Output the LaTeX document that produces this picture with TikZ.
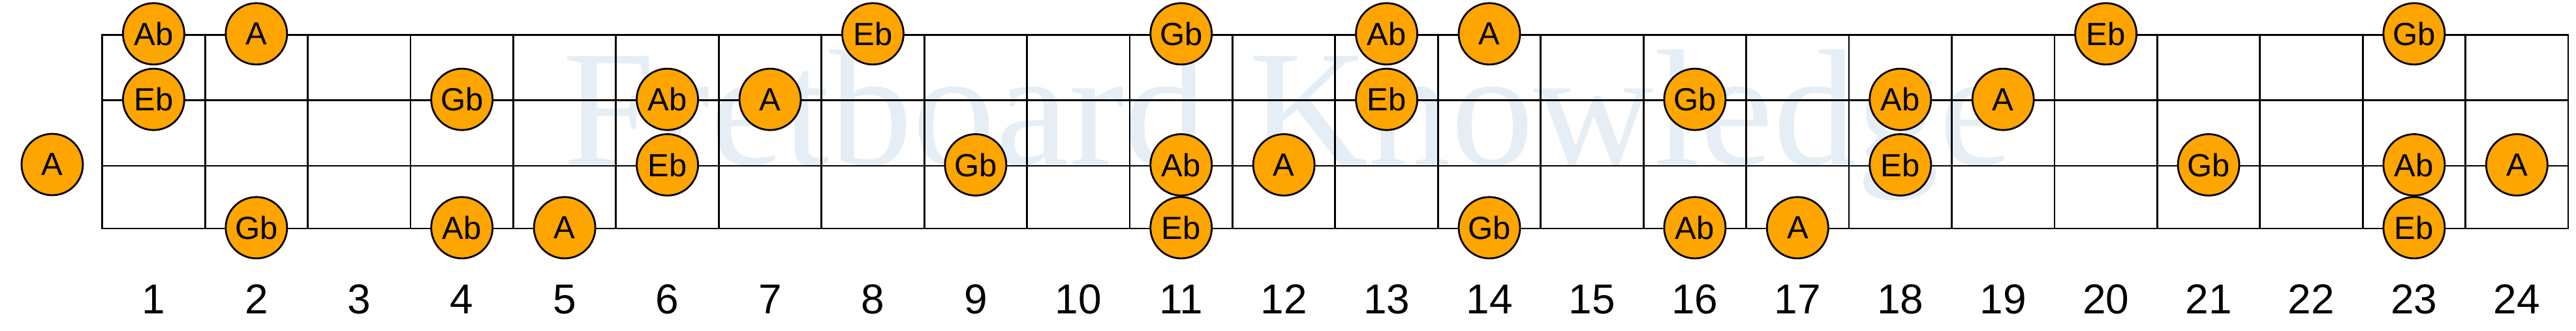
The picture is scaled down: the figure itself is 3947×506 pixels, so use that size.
\documentclass[tikz,border=0pt]{standalone}
\usepackage{fontspec}
\setmainfont{Liberation Sans}
\newfontfamily\wmfont{Liberation Serif}
\definecolor{noteorange}{HTML}{FFA500}
\definecolor{wmblue}{HTML}{E5EEF4}
\begin{document}
\begin{tikzpicture}[x=1pt,y=-1pt,
  fretline/.style={line width=2.8pt, draw=black, line cap=rect},
  note/.style={circle, draw=black, line width=2.8pt, fill=noteorange, minimum size=94pt, inner sep=0pt, font=\fontsize{49}{50}\selectfont},
  fretnum/.style={font=\fontsize{64}{70}\selectfont, anchor=base, inner sep=0pt},
  watermark/.style={font=\wmfont\fontsize{254}{254}\selectfont, text=wmblue, anchor=base west, inner sep=0pt}]
\useasboundingbox (0,0) rectangle (3947,506);
\node[watermark] (wm) at (862,252) {Fretboard Knowledge};
% grid coordinates
\foreach \s/\y in {1/53.3,2/153.7,3/254,4/350}{
  \coordinate (sL\s) at (156.7,\y);
  \coordinate (sR\s) at (3935,\y);
}
\foreach \k in {0,...,24}{
  \coordinate (fT\k) at ({156.7+\k*157.43},53.3);
  \coordinate (fB\k) at ({156.7+\k*157.43},350);
}
\foreach \s in {1,...,4}{\draw[fretline] (sL\s) -- (sR\s);}
\foreach \k in {0,...,24}{\draw[fretline] (fT\k) -- (fB\k);}
% notes
\foreach \f/\t in {1/Ab,2/A,8/Eb,11/Gb,13/Ab,14/A,20/Eb,23/Gb}{
  \node[note] (a\f) at ({78+\f*157.43},51.8) {\t};}
\foreach \f/\t in {1/Eb,4/Gb,6/Ab,7/A,13/Eb,16/Gb,18/Ab,19/A}{
  \node[note] (b\f) at ({78+\f*157.43},152.2) {\t};}
\foreach \f/\t in {6/Eb,9/Gb,11/Ab,12/A,18/Eb,21/Gb,23/Ab,24/A}{
  \node[note] (c\f) at ({78+\f*157.43},252.5) {\t};}
\node[note] (c0) at (80,252) {A};
\foreach \f/\t in {2/Gb,4/Ab,5/A,11/Eb,14/Gb,16/Ab,17/A,23/Eb}{
  \node[note] (d\f) at ({78+\f*157.43},348.8) {\t};}
% fret numbers
\foreach \k in {1,...,24}{
  \node[fretnum] (num\k) at ({78+\k*157.43},480) {\k};}
\end{tikzpicture}
\end{document}
